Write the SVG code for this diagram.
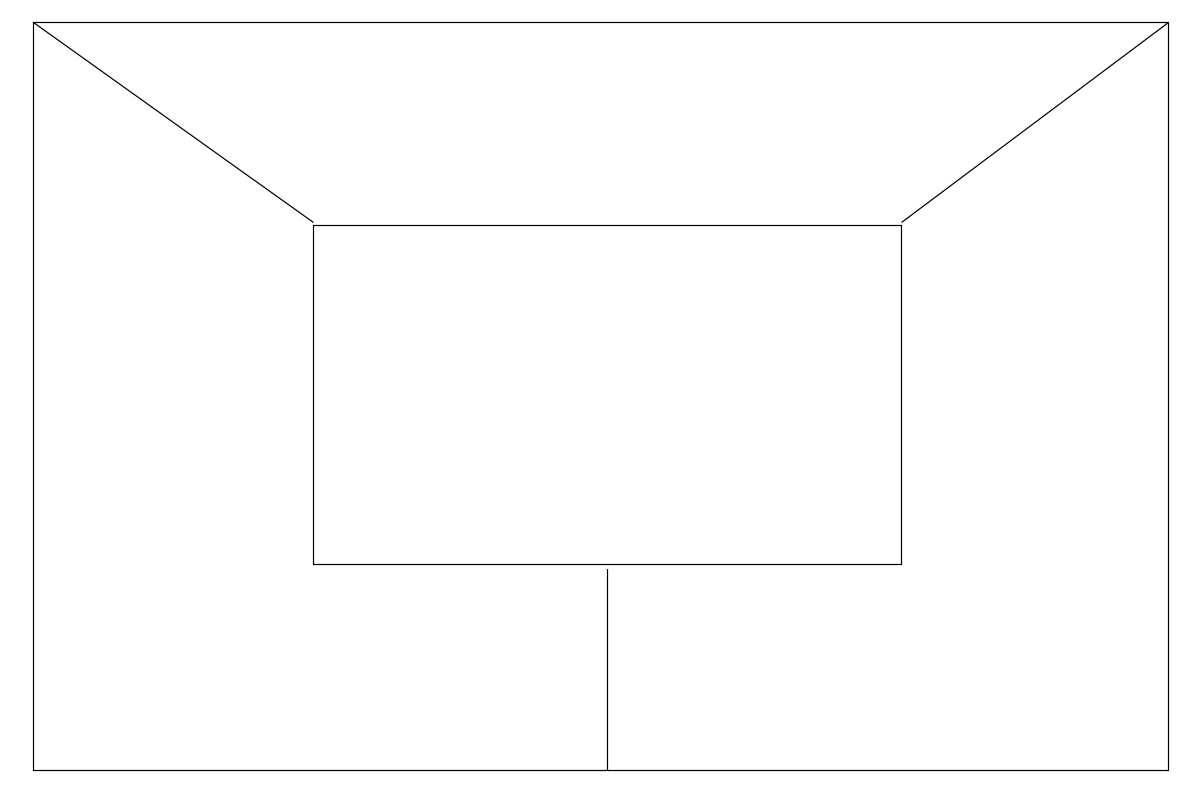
<svg xmlns="http://www.w3.org/2000/svg" width="1191" height="791" viewBox="0 0 1191 791">
<style>.s{fill:none;stroke:#000;stroke-width:1.2}</style>
<rect width="1191" height="791" fill="#fff"/>
<g id="outer"><rect class="s" x="33.5" y="22.5" width="1135" height="748"/></g>
<g id="inner"><rect class="s" x="313.5" y="225.5" width="588" height="339"/></g>
<g id="connectors">
<line class="s" x1="33.5" y1="22.5" x2="313.5" y2="222.5"/>
<line class="s" x1="1168.5" y1="22.5" x2="901.5" y2="222.5"/>
<line class="s" x1="607.5" y1="569" x2="607.5" y2="770.5"/>
</g>
</svg>
